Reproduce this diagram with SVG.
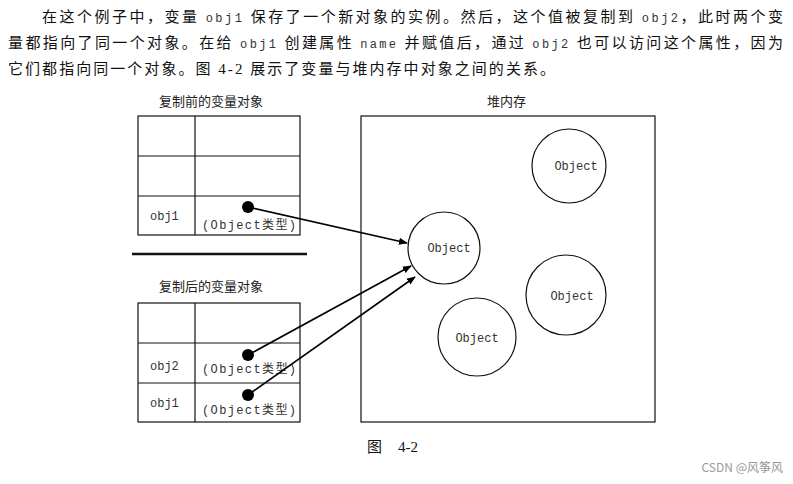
<svg xmlns="http://www.w3.org/2000/svg" width="793" height="484" viewBox="0 0 793 484">
<style>
.p{font-family:"Liberation Serif","Noto Sans CJK SC",serif;font-size:15px;fill:#111}
.m{font-family:"Liberation Mono","Noto Sans CJK SC",monospace;font-size:12px;fill:#333}
.c{font-family:"Noto Sans CJK SC",sans-serif;font-size:13px;fill:#222}
.b{fill:none;stroke:#111;stroke-width:1.2}
.a{stroke:#000;stroke-width:1.6;fill:none;marker-end:url(#ar)}
</style>
<defs><marker id="ar" viewBox="0 0 10 10" refX="9" refY="5" markerWidth="9" markerHeight="9" markerUnits="userSpaceOnUse" orient="auto"><path d="M0,1 L10,5 L0,9 Z" fill="#000"/></marker></defs>
<rect width="793" height="484" fill="#fff"/>
<text class="p" x="42" y="22" textLength="741" lengthAdjust="spacing">在这个例子中，变量 <tspan class="m">obj1</tspan> 保存了一个新对象的实例。然后，这个值被复制到 <tspan class="m">obj2</tspan>，此时两个变</text>
<text class="p" x="8" y="48" textLength="775" lengthAdjust="spacing">量都指向了同一个对象。在给 <tspan class="m">obj1</tspan> 创建属性 <tspan class="m">name</tspan> 并赋值后，通过 <tspan class="m">obj2</tspan> 也可以访问这个属性，因为</text>
<text class="p" x="8" y="74" textLength="547" lengthAdjust="spacing">它们都指向同一个对象。图 4-2 展示了变量与堆内存中对象之间的关系。</text>
<g id="before">
<text class="c" x="159" y="106">复制前的变量对象</text>
<rect class="b" x="138" y="116" width="162" height="119"/>
<path class="b" d="M195,116V235M138,156H300M138,196H300"/>
<text class="m" x="150" y="220">obj1</text>
<text class="m" x="202" y="229" textLength="94" lengthAdjust="spacing">(Object类型)</text>
<circle cx="248" cy="207" r="6"/>
</g>
<line x1="132" y1="254" x2="307" y2="254" stroke="#111" stroke-width="2.5"/>
<g id="after">
<text class="c" x="159" y="291">复制后的变量对象</text>
<rect class="b" x="138" y="303" width="162" height="119"/>
<path class="b" d="M195,303V422M138,343H300M138,383H300"/>
<text class="m" x="150" y="370">obj2</text>
<text class="m" x="202" y="373" textLength="94" lengthAdjust="spacing">(Object类型)</text>
<text class="m" x="150" y="407">obj1</text>
<text class="m" x="202" y="414" textLength="94" lengthAdjust="spacing">(Object类型)</text>
<circle cx="248" cy="355" r="6"/>
<circle cx="248" cy="395" r="6"/>
</g>
<g id="heap">
<text class="c" x="487" y="106">堆内存</text>
<rect class="b" x="361" y="116" width="294" height="306"/>
<circle class="b" cx="444" cy="248" r="36"/><text class="m" x="449" y="252" text-anchor="middle">Object</text>
<circle class="b" cx="569" cy="166" r="37"/><text class="m" x="576" y="170" text-anchor="middle">Object</text>
<circle class="b" cx="566" cy="295" r="40"/><text class="m" x="572" y="300" text-anchor="middle">Object</text>
<circle class="b" cx="477" cy="337" r="39"/><text class="m" x="477" y="342" text-anchor="middle">Object</text>
</g>
<g id="connectors">
<line class="a" x1="248" y1="207" x2="407" y2="243"/>
<line class="a" x1="248" y1="355" x2="411" y2="266"/>
<line class="a" x1="248" y1="395" x2="415" y2="277"/>
</g>
<text class="p" x="367" y="452">图</text>
<text class="p" x="398" y="452">4-2</text>
<text x="783" y="472" text-anchor="end" style="font-family:'Noto Sans CJK SC',sans-serif;font-size:12px;fill:#999">CSDN @风筝风</text>
</svg>
